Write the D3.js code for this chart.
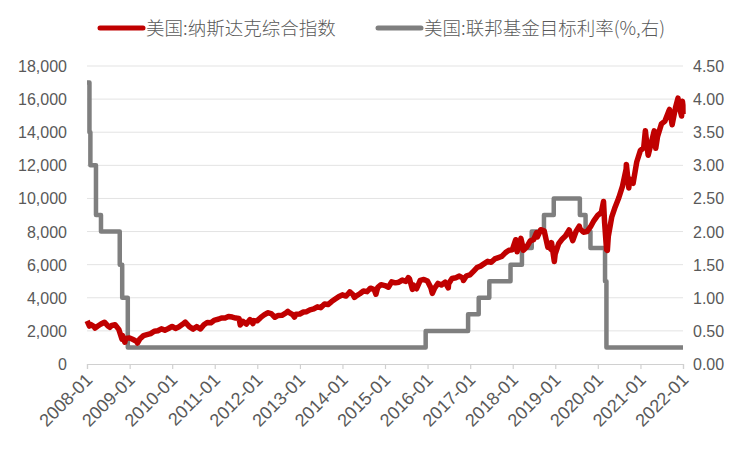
<!DOCTYPE html>
<html>
<head>
<meta charset="utf-8">
<script src="https://cdn.jsdelivr.net/npm/d3@7"></script>
<style>
  body { margin: 0; background: #fff; }
  text { font-family: "Liberation Sans", Arial, sans-serif; fill: #595959; }
  .cjk { font-family: "Noto Sans CJK SC", "Liberation Sans", sans-serif; font-weight: 300; }
</style>
</head>
<body>
<svg id="chart" width="750" height="450"></svg>
<script>
// series names
const seriesNames = ['美国:纳斯达克综合指数', '美国:联邦基金目标利率(%,右)']

// Nasdaq composite, [date, value]
const nasdaq = [
    ['2008-01-02', 2610], ['2008-01-22', 2290], ['2008-01-31', 2390], ['2008-02-28', 2271], ['2008-03-10', 2170],
    ['2008-03-31', 2279], ['2008-04-30', 2413], ['2008-05-30', 2523], ['2008-06-30', 2293], ['2008-07-15', 2215],
    ['2008-07-31', 2326], ['2008-08-29', 2368], ['2008-09-30', 2092], ['2008-10-27', 1505], ['2008-10-31', 1721],
    ['2008-11-20', 1316], ['2008-11-28', 1536], ['2008-12-31', 1577],
    ['2009-01-30', 1476], ['2009-02-27', 1378], ['2009-03-09', 1268], ['2009-03-31', 1529], ['2009-04-30', 1717],
    ['2009-05-29', 1774], ['2009-06-30', 1835], ['2009-07-31', 1979], ['2009-08-31', 2009], ['2009-09-30', 2122],
    ['2009-10-30', 2045], ['2009-11-30', 2145], ['2009-12-31', 2269],
    ['2010-01-29', 2147], ['2010-02-26', 2238], ['2010-03-31', 2398], ['2010-04-23', 2530], ['2010-05-28', 2257],
    ['2010-06-30', 2109], ['2010-07-30', 2255], ['2010-08-31', 2114], ['2010-09-30', 2369], ['2010-10-29', 2507],
    ['2010-11-30', 2498], ['2010-12-31', 2653],
    ['2011-01-31', 2700], ['2011-02-28', 2782], ['2011-03-31', 2781], ['2011-04-29', 2874], ['2011-05-31', 2835],
    ['2011-06-30', 2774], ['2011-07-29', 2756], ['2011-08-08', 2358], ['2011-08-31', 2579], ['2011-09-30', 2415],
    ['2011-10-31', 2684], ['2011-11-25', 2441], ['2011-11-30', 2620], ['2011-12-30', 2605],
    ['2012-01-31', 2814], ['2012-02-29', 2967], ['2012-03-30', 3092], ['2012-04-30', 3046], ['2012-05-31', 2827],
    ['2012-06-29', 2935], ['2012-07-31', 2940], ['2012-08-31', 3067], ['2012-09-19', 3183], ['2012-09-28', 3116],
    ['2012-10-31', 2977], ['2012-11-15', 2836], ['2012-11-30', 3010], ['2012-12-31', 3020],
    ['2013-01-31', 3142], ['2013-02-28', 3160], ['2013-03-28', 3268], ['2013-04-30', 3329], ['2013-05-31', 3456],
    ['2013-06-28', 3403], ['2013-07-31', 3626], ['2013-08-30', 3590], ['2013-09-30', 3771], ['2013-10-31', 3920],
    ['2013-11-29', 4060], ['2013-12-31', 4177],
    ['2014-01-31', 4104], ['2014-02-28', 4308], ['2014-03-05', 4358], ['2014-03-31', 4199], ['2014-04-14', 4022],
    ['2014-04-30', 4115], ['2014-05-30', 4243], ['2014-06-30', 4408], ['2014-07-31', 4370], ['2014-08-29', 4580],
    ['2014-09-30', 4493], ['2014-10-15', 4215], ['2014-10-31', 4631], ['2014-11-28', 4792], ['2014-12-31', 4736],
    ['2015-01-30', 4635], ['2015-02-27', 4964], ['2015-03-31', 4901], ['2015-04-30', 4941], ['2015-05-29', 5070],
    ['2015-06-30', 4987], ['2015-07-20', 5219], ['2015-07-31', 5128], ['2015-08-24', 4506], ['2015-08-31', 4777],
    ['2015-09-29', 4543], ['2015-10-30', 5054], ['2015-11-30', 5109], ['2015-12-31', 5007],
    ['2016-01-29', 4614], ['2016-02-11', 4266], ['2016-02-29', 4558], ['2016-03-31', 4870], ['2016-04-29', 4775],
    ['2016-05-31', 4948], ['2016-06-27', 4594], ['2016-06-30', 4843], ['2016-07-29', 5162], ['2016-08-31', 5213],
    ['2016-09-30', 5312], ['2016-10-31', 5189], ['2016-11-04', 5046], ['2016-11-30', 5324], ['2016-12-30', 5383],
    ['2017-01-31', 5615], ['2017-02-28', 5825], ['2017-03-31', 5912], ['2017-04-28', 6048], ['2017-05-31', 6199],
    ['2017-06-30', 6140], ['2017-07-31', 6348], ['2017-08-31', 6429], ['2017-09-29', 6496], ['2017-10-31', 6728],
    ['2017-11-30', 6874], ['2017-12-29', 6903],
    ['2018-01-26', 7506], ['2018-01-31', 7411], ['2018-02-08', 6777], ['2018-02-28', 7273], ['2018-03-12', 7588],
    ['2018-03-29', 7063], ['2018-04-02', 6870], ['2018-04-30', 7066], ['2018-05-31', 7442], ['2018-06-29', 7510],
    ['2018-07-25', 7932], ['2018-07-31', 7672], ['2018-08-29', 8110], ['2018-09-28', 8046], ['2018-10-29', 7050],
    ['2018-10-31', 7306], ['2018-11-23', 6939], ['2018-11-30', 7331], ['2018-12-24', 6192], ['2018-12-31', 6635],
    ['2019-01-31', 7282], ['2019-02-28', 7533], ['2019-03-29', 7729], ['2019-04-30', 8095], ['2019-05-31', 7453],
    ['2019-06-28', 8006], ['2019-07-26', 8330], ['2019-07-31', 8175], ['2019-08-30', 7963], ['2019-09-30', 7999],
    ['2019-10-31', 8292], ['2019-11-29', 8665], ['2019-12-31', 8973],
    ['2020-01-31', 9151], ['2020-02-19', 9817], ['2020-02-28', 8567], ['2020-03-16', 6904], ['2020-03-23', 6860],
    ['2020-03-31', 7700], ['2020-04-30', 8890], ['2020-05-29', 9490], ['2020-06-30', 10059], ['2020-07-31', 10745],
    ['2020-08-31', 11775], ['2020-09-02', 12056], ['2020-09-23', 10633], ['2020-09-30', 11168], ['2020-10-30', 10912],
    ['2020-11-30', 12199], ['2020-12-31', 12888],
    ['2021-01-29', 13071], ['2021-02-12', 14095], ['2021-02-26', 13192], ['2021-03-08', 12609], ['2021-03-31', 13247],
    ['2021-04-29', 14082], ['2021-04-30', 13962], ['2021-05-12', 13032], ['2021-05-28', 13749], ['2021-06-30', 14504],
    ['2021-07-30', 14673], ['2021-08-31', 15259], ['2021-09-07', 15374], ['2021-09-30', 14448], ['2021-10-29', 15498],
    ['2021-11-19', 16057], ['2021-11-30', 15538], ['2021-12-20', 14981], ['2021-12-27', 15871], ['2021-12-31', 15645],
    ['2022-01-01', 15100]
]

// fed funds target rate (upper bound), step changes
const fedRate = [
    ['2008-01-01', 4.25], ['2008-01-22', 3.50], ['2008-01-30', 3.00], ['2008-03-18', 2.25], ['2008-04-30', 2.00],
    ['2008-10-08', 1.50], ['2008-10-29', 1.00], ['2008-12-16', 0.25], ['2015-12-16', 0.50], ['2016-12-14', 0.75],
    ['2017-03-15', 1.00], ['2017-06-14', 1.25], ['2017-12-13', 1.50], ['2018-03-21', 1.75], ['2018-06-13', 2.00],
    ['2018-09-26', 2.25], ['2018-12-19', 2.50], ['2019-07-31', 2.25], ['2019-09-18', 2.00], ['2019-10-30', 1.75],
    ['2020-03-03', 1.25], ['2020-03-15', 0.25], ['2022-01-01', 0.25]
]

const leftTicks = [0, 2000, 4000, 6000, 8000, 10000, 12000, 14000, 16000, 18000]
const rightTicks = [0, 0.5, 1, 1.5, 2, 2.5, 3, 3.5, 4, 4.5]
const yearTicks = d3.range(2008, 2023)

const parse = d3.timeParse('%Y-%m-%d')

const svg = d3.select('#chart')
const m = { left: 87, right: 683, top: 66, bottom: 364 }

const x = d3.scaleTime()
    .domain([ new Date(2008, 0, 1), new Date(2022, 0, 1) ])
    .range([ m.left, m.right ])
const yL = d3.scaleLinear().domain([ 0, 18000 ]).range([ m.bottom, m.top ])
const yR = d3.scaleLinear().domain([ 0, 4.5 ]).range([ m.bottom, m.top ])

// gridlines
svg.append('g')
    .selectAll('line')
    .data(leftTicks.slice(1))
    .join('line')
    .attr('x1', m.left).attr('x2', m.right)
    .attr('y1', d => yL(d)).attr('y2', d => yL(d))
    .attr('stroke', '#e3e3e3')
    .attr('stroke-width', 1)

// left axis labels
svg.append('g')
    .selectAll('text')
    .data(leftTicks)
    .join('text')
    .attr('x', 67)
    .attr('y', d => yL(d) + 6)
    .attr('text-anchor', 'end')
    .attr('font-size', 16)
    .text(d => d3.format(',')(d))

// right axis labels
svg.append('g')
    .selectAll('text')
    .data(rightTicks)
    .join('text')
    .attr('x', 693)
    .attr('y', d => yR(d) + 6)
    .attr('font-size', 16)
    .text(d => d.toFixed(2))

// bottom axis
const xAxis = svg.append('g')
    .attr('transform', `translate(0,${m.bottom})`)
    .call(d3.axisBottom(x)
        .tickValues(yearTicks.map(y => new Date(y, 0, 1)))
        .tickSize(5)
        .tickFormat(d3.timeFormat('%Y-%m')))
xAxis.select('.domain').attr('stroke', '#d0d0d0').attr('stroke-width', 1.2)
xAxis.selectAll('.tick line').attr('stroke', '#d0d0d0').attr('stroke-width', 1.2)
xAxis.selectAll('.tick text')
    .attr('font-size', 18)
    .attr('font-family', '"Liberation Sans", Arial, sans-serif')
    .attr('fill', '#595959')
    .attr('text-anchor', 'end')
    .attr('dy', null)
    .attr('y', 0)
    .attr('x', 0)
    .attr('transform', 'translate(6,17) rotate(-45)')

// fed rate line
const fedLine = d3.line()
    .x(d => x(parse(d[0])))
    .y(d => yR(d[1]))
    .curve(d3.curveStepAfter)

svg.append('path')
    .datum(fedRate)
    .attr('d', fedLine)
    .attr('fill', 'none')
    .attr('stroke', '#7f7f7f')
    .attr('stroke-width', 4.5)
    .attr('stroke-linejoin', 'round')

// nasdaq line
const ndLine = d3.line()
    .x(d => x(parse(d[0])))
    .y(d => yL(d[1]))

svg.append('path')
    .datum(nasdaq)
    .attr('d', ndLine)
    .attr('fill', 'none')
    .attr('stroke', '#c00000')
    .attr('stroke-width', 5.5)
    .attr('stroke-linejoin', 'round')

// legend
const legend = svg.append('g')
const legendItems = [
    { name: seriesNames[0], color: '#c00000', x: 100 },
    { name: seriesNames[1], color: '#7f7f7f', x: 378 }
]
legendItems.forEach(it => {
    legend.append('line')
        .attr('x1', it.x).attr('x2', it.x + 43)
        .attr('y1', 28).attr('y2', 28)
        .attr('stroke', it.color)
        .attr('stroke-width', 5)
        .attr('stroke-linecap', 'round')
    legend.append('text')
        .attr('class', 'cjk')
        .attr('x', it.x + 46)
        .attr('y', 35)
        .attr('font-size', 18.5)
        .text(it.name)
})
</script>
</body>
</html>
